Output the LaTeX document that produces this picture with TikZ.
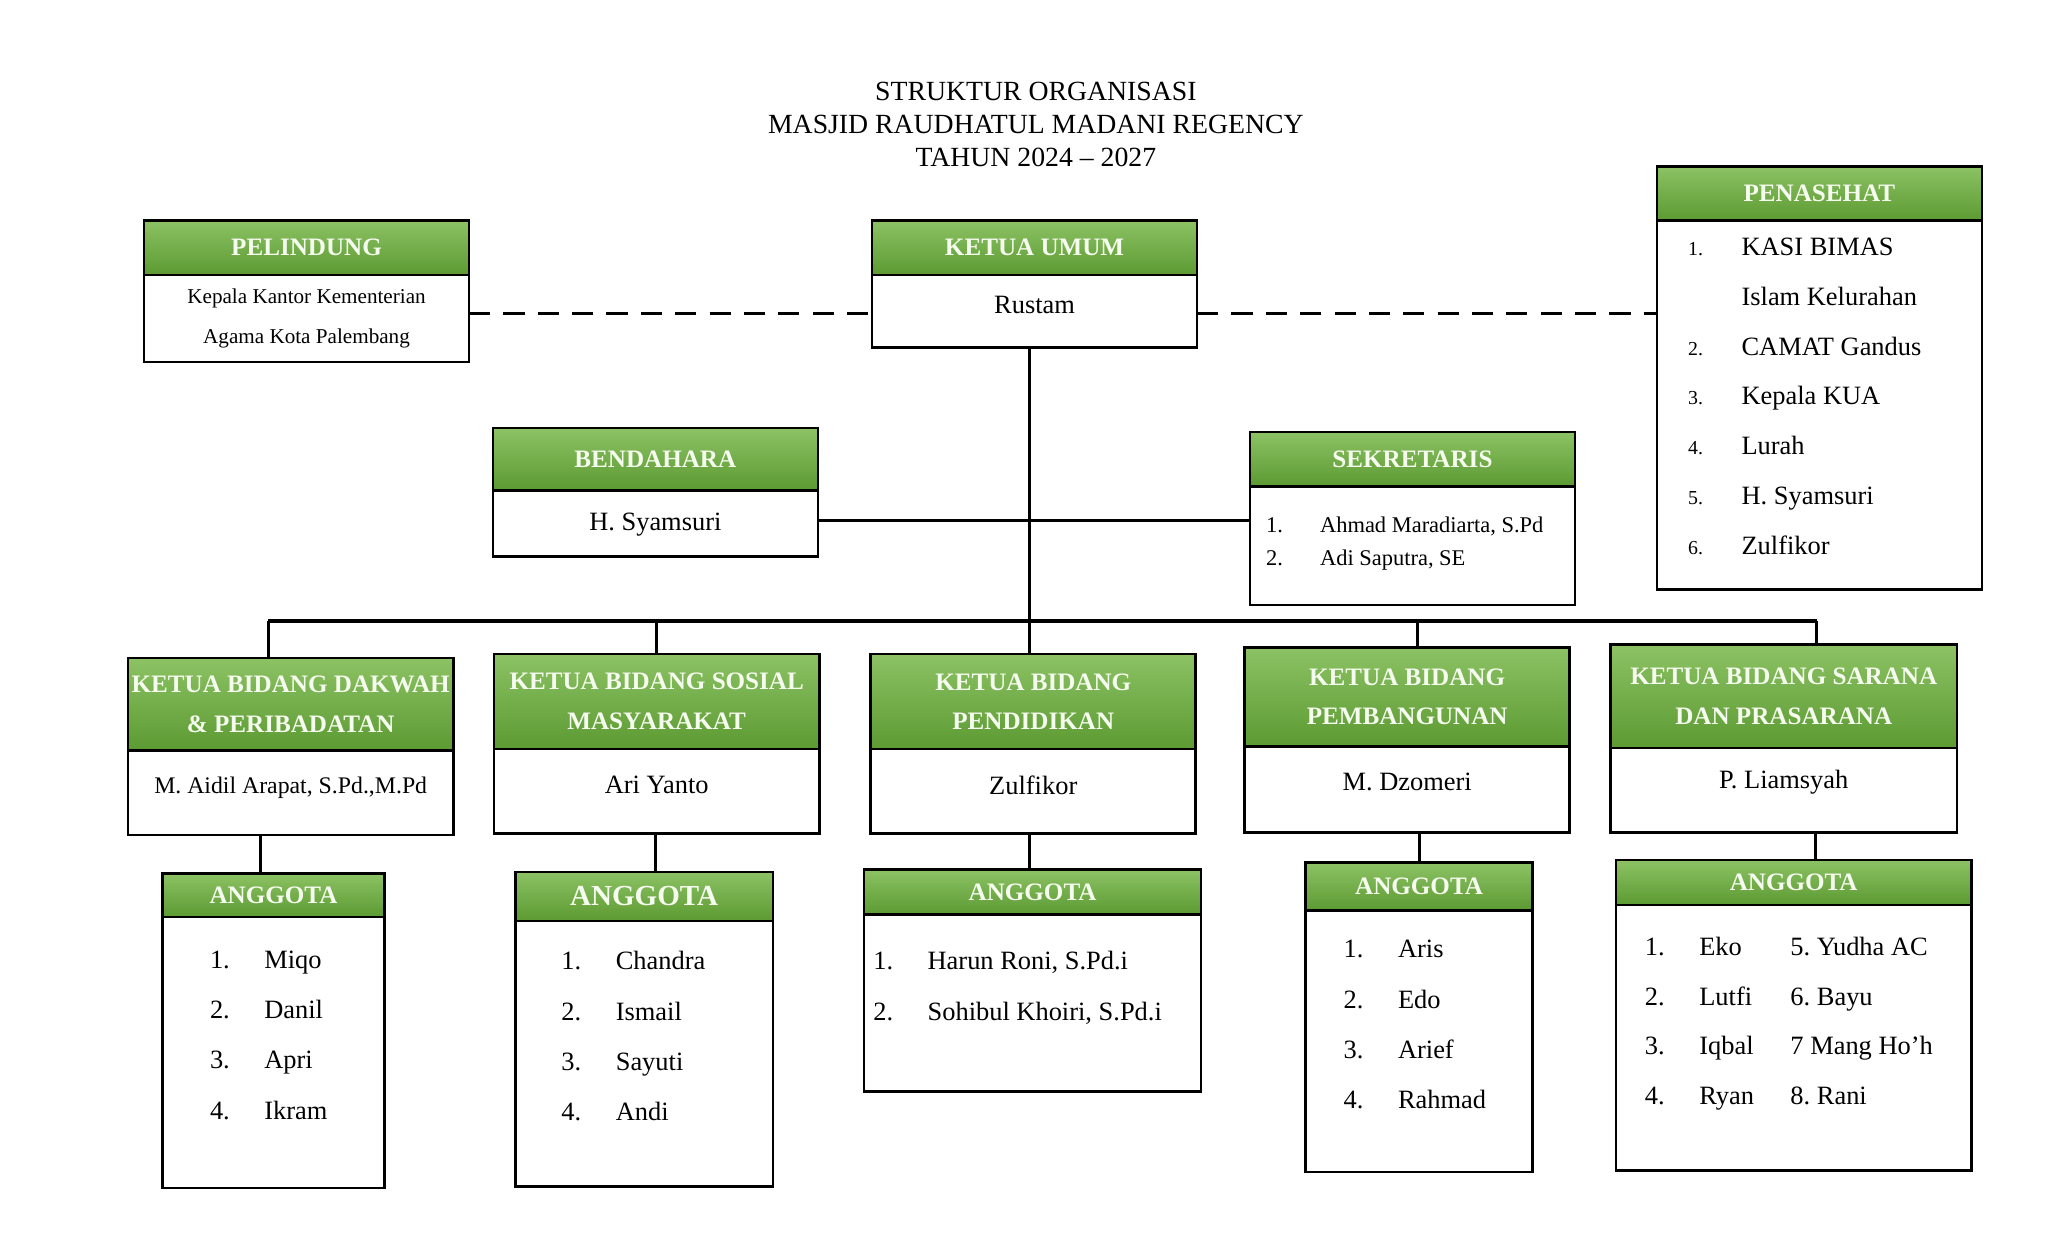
\documentclass[tikz,border=0pt]{standalone}
\usepackage{fontspec}
\setmainfont{Liberation Serif}
\begin{document}
\begin{tikzpicture}[x=0.5pt,y=-0.5pt,
  box/.style={draw=black,line width=1pt,inner sep=0pt,outer sep=0pt,fill=white},
  hdr/.style={box,top color=grnT,bottom color=grnB,text=hdrtxt,font=\bfseries\fontsize{9.5}{13}\selectfont,align=center},
  bodytxt/.style={font=\fontsize{10}{12}\selectfont},
  small/.style={font=\fontsize{8}{10}\selectfont},
  num/.style={anchor=base east,font=\fontsize{10}{12}\selectfont},
  itm/.style={anchor=base west,font=\fontsize{10}{12}\selectfont},
  link/.style={line width=1.2pt}]
\definecolor{grnT}{HTML}{8CC264}
\definecolor{grnB}{HTML}{5C9A32}
\definecolor{hdrtxt}{HTML}{F6FBEF}
\useasboundingbox (0,0) rectangle (1550,940);
% name, x1, x2, ytop, ymid, ybot, header
\newcommand\orgbox[7]{%
  \node[box,minimum width={(#3-#2)*0.5pt},minimum height={(#6-#5)*0.5pt}] (#1-b) at ({(#2+#3)/2},{(#5+#6)/2}) {};
  \node[hdr,minimum width={(#3-#2)*0.5pt},minimum height={(#5-#4)*0.5pt}] (#1-h) at ({(#2+#3)/2},{(#4+#5)/2}) {#7};}

\node[font=\fontsize{10.5}{12.5}\selectfont,align=center] (title) at (784,94)
  {STRUKTUR ORGANISASI\\MASJID RAUDHATUL MADANI REGENCY\\TAHUN 2024 -- 2027};

\orgbox{pl}{109}{355}{167}{208}{274}{PELINDUNG}
\node[small,align=center] (plt) at (232,241) {Kepala Kantor Kementerian\\[5pt]Agama Kota Palembang};
\orgbox{ku}{660}{906}{167}{208}{263}{KETUA UMUM}
\node[bodytxt] (kut) at (783,231) {Rustam};
\orgbox{pn}{1254}{1500}{126}{167}{446}{PENASEHAT}
\foreach \n/\t/\y in {1./KASI BIMAS/188, /Islam Kelurahan/226, 2./CAMAT Gandus/264, 3./Kepala KUA/301, 4./Lurah/339, 5./H. Syamsuri/377, 6./Zulfikor/415}
  {\node[num,font=\fontsize{7.5}{9}\selectfont] at (1296,\y+5) {\n};
   \node[itm] at (1311,\y+5) {\t};}

\orgbox{bd}{373}{619}{324}{371}{421}{BENDAHARA}
\node[bodytxt] (bdt) at (496,397) {H. Syamsuri};
\orgbox{sk}{946}{1192}{327}{368}{458}{SEKRETARIS}
\foreach \n/\t/\y in {1./{Ahmad Maradiarta, S.Pd}/399, 2./{Adi Saputra, SE}/424}
  {\node[num,font=\fontsize{8.5}{10}\selectfont] at (978,\y+4) {\n};
   \node[itm,font=\fontsize{8.5}{10}\selectfont] at (992,\y+4) {\t};}

\orgbox{k1}{97}{343}{498}{568}{632}{KETUA BIDANG DAKWAH\\[2pt]\& PERIBADATAN}
\node[bodytxt,font=\fontsize{9}{11}\selectfont] at (220,596) {M. Aidil Arapat, S.Pd.,M.Pd};
\orgbox{k2}{374}{620}{495}{567}{631}{KETUA BIDANG SOSIAL\\[2pt]MASYARAKAT}
\node[bodytxt] at (497,594) {Ari Yanto};
\orgbox{k3}{659}{905}{495}{567}{631}{KETUA BIDANG\\[2pt]PENDIDIKAN}
\node[bodytxt] at (782,594) {Zulfikor};
\orgbox{k4}{942}{1188}{490}{565}{630}{KETUA BIDANG\\[2pt]PEMBANGUNAN}
\node[bodytxt] at (1065,592) {M. Dzomeri};
\orgbox{k5}{1219}{1481}{488}{566}{630}{KETUA BIDANG SARANA\\[2pt]DAN PRASARANA}
\node[bodytxt] at (1350,592) {P. Liamsyah};

\orgbox{a1}{123}{291}{661}{694}{899}{ANGGOTA}
\foreach \n/\t/\y in {1./Miqo/728, 2./Danil/766, 3./Apri/804, 4./Ikram/842}
  {\node[num] at (181,\y+5) {\n}; \node[itm] at (193,\y+5) {\t};}
\orgbox{a2}{390}{585}{660}{697}{898}{\fontsize{11}{13}\selectfont ANGGOTA}
\foreach \n/\t/\y in {1./Chandra/729, 2./Ismail/767, 3./Sayuti/805, 4./Andi/843}
  {\node[num] at (447,\y+5) {\n}; \node[itm] at (459,\y+5) {\t};}
\orgbox{a3}{654}{909}{658}{692}{826}{ANGGOTA}
\foreach \n/\t/\y in {1./{Harun Roni, S.Pd.i}/729, 2./{Sohibul Khoiri, S.Pd.i}/767}
  {\node[num] at (683,\y+5) {\n}; \node[itm] at (695,\y+5) {\t};}
\orgbox{a4}{988}{1160}{653}{689}{887}{ANGGOTA}
\foreach \n/\t/\y in {1./Aris/720, 2./Edo/758, 3./Arief/796, 4./Rahmad/834}
  {\node[num] at (1039,\y+5) {\n}; \node[itm] at (1051,\y+5) {\t};}
\orgbox{a5}{1223}{1492}{651}{685}{886}{ANGGOTA}
\foreach \n/\t/\m/\u/\y in {1./Eko/5./Yudha AC/718, 2./Lutfi/6./Bayu/756, 3./Iqbal/7/Mang Ho’h/793, 4./Ryan/8./Rani/831}
  {\node[num] at (1267,\y+5) {\n}; \node[itm] at (1279,\y+5) {\t};
   \node[itm] at (1348,\y+5) {\m\ \u};}

% connectors
\draw[link,dash pattern=on 8pt off 5pt] (pl-b.east|-0,237) -- (ku-b.west|-0,237);
\draw[link,dash pattern=on 8pt off 5pt] (ku-b.east|-0,237) -- (pn-b.west|-0,237);
\coordinate (bus) at (779,470);
\coordinate (mid) at (779,394);
\draw[link] (ku-b.south-|bus) -- (bus);
\draw[link] (bd-b.east|-mid) -- (sk-b.west|-mid);
\draw[link] (203,470) -- (1375,470);
\draw[link] (203,470) -- (k1-h.north-|203,0);
\draw[link] (497,470) -- (k2-h.north-|497,0);
\draw[link] (779,470) -- (k3-h.north-|779,0);
\draw[link] (1073,470) -- (k4-h.north-|1073,0);
\draw[link] (1375,470) -- (k5-h.north-|1375,0);
\draw[link] (k1-b.south-|197,0) -- (a1-h.north-|197,0);
\draw[link] (k2-b.south-|496,0) -- (a2-h.north-|496,0);
\draw[link] (k3-b.south-|779,0) -- (a3-h.north-|779,0);
\draw[link] (k4-b.south-|1074,0) -- (a4-h.north-|1074,0);
\draw[link] (k5-b.south-|1374,0) -- (a5-h.north-|1374,0);
\end{tikzpicture}
\end{document}
